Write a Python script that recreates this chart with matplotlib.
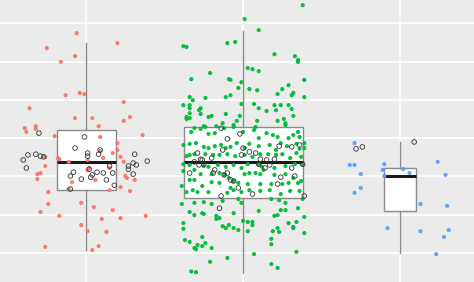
import numpy as np
import matplotlib
matplotlib.use("Agg")
import matplotlib.pyplot as plt

# box summaries per group (min whisker, q1, median, q3, max whisker)
groups = ["A", "B", "C"]
box_whislo = [0.08, -0.51, 0.00]
box_q1 = [1.64, 1.44, 1.10]
box_med = [2.38, 2.38, 2.01]
box_q3 = [3.21, 3.29, 2.22]
box_whishi = [5.48, 5.80, 2.90]

# jittered points (offset from group centre, value)
red_dx = [-0.06, -0.25, 0.20, -0.07, -0.16, -0.13, -0.04, -0.01, 0.24, -0.36,
          -0.07, 0.04, 0.28, 0.24, 0.08, -0.39, -0.32, -0.38, -0.32, -0.20,
          0.09, 0.36, 0.20, -0.26, -0.18, -0.17, -0.11, 0.11, 0.20, 0.22,
          0.17, -0.26, -0.31, -0.29, -0.31, 0.25, 0.26, 0.24, 0.28, 0.31,
          0.22, 0.15, -0.09, -0.11, 0.06, 0.01, 0.15, -0.24, -0.24, -0.03,
          0.05, -0.29, 0.17, -0.17, 0.22, 0.38, 0.10, -0.03, 0.01, 0.13,
          -0.26, 0.08, 0.04, 0.09, 0.01, 0.02]
red_y = [5.74, 5.35, 5.48, 5.14, 4.99, 4.12, 4.18, 4.15, 3.94, 3.78,
         3.52, 3.52, 3.55, 3.45, 3.31, 3.26, 3.31, 3.16, 3.24, 3.05,
         3.03, 3.08, 2.87, 2.51, 2.48, 2.45, 2.38, 2.48, 2.69, 2.51,
         2.61, 2.27, 2.06, 2.09, 1.93, 2.01, 1.96, 2.38, 1.62, 1.91,
         1.72, 2.22, 1.85, 1.67, 1.91, 2.17, 1.64, 1.59, 1.28, 1.31,
         1.20, 1.07, 1.12, 0.97, 0.91, 0.97, 0.89, 0.73, 0.57, 0.55,
         0.16, 0.18, 0.08, 2.66, 2.43, 2.22]
red_open_dx = [-0.30, -0.01, -0.40, -0.37, -0.32, -0.29, -0.27, -0.38, -0.07, 0.01,
               0.01, 0.09, 0.08, 0.15, 0.17, 0.07, 0.11, 0.02, 0.04, 0.03,
               -0.08, -0.10, -0.03, 0.13, -0.10, 0.18, 0.27, 0.27, 0.30, 0.32,
               0.31, 0.39, 0.30]
red_open_y = [3.13, 3.03, 2.43, 2.56, 2.58, 2.53, 2.51, 2.22, 2.74, 2.61,
              2.53, 2.69, 2.58, 2.27, 2.09, 2.11, 2.09, 2.19, 2.04, 1.98,
              2.11, 2.01, 1.93, 1.91, 1.67, 1.77, 2.27, 2.19, 2.35, 2.30,
              2.58, 2.40, 2.06]

green_dx = [0.38, 0.01, 0.10, -0.38, -0.36, -0.10, -0.05, 0.20, 0.33, 0.35,
            0.35, -0.21, 0.03, 0.06, 0.10, -0.33, -0.09, -0.08, -0.01, 0.39,
            -0.03, 0.04, 0.09, 0.29, 0.25, 0.32, 0.31, 0.22, 0.39, -0.34,
            -0.32, -0.24, -0.11, -0.08, -0.01, 0.07, 0.10, 0.20, 0.24, 0.15,
            0.29, 0.31, -0.38, -0.34, -0.34, -0.27, -0.28, -0.27, -0.34, -0.36,
            -0.36, -0.34, -0.22, -0.20, -0.11, -0.02, 0.21, 0.22, 0.26, 0.27,
            0.32, 0.09, 0.08, -0.04, -0.06, -0.13, -0.17, -0.25, -0.31, -0.27,
            -0.33, -0.22, -0.18, -0.12, -0.06, 0.00, 0.07, 0.10, 0.15, 0.19,
            0.22, 0.29, 0.32, 0.35, 0.36, 0.27, -0.24,
            -0.38, -0.34, -0.30, -0.25, -0.22, -0.18, -0.14, -0.11, -0.08, -0.04,
            0.01, 0.04, 0.10, 0.17, 0.21, 0.24, 0.28, 0.34, 0.36, 0.39, 0.39,
            -0.36, -0.34, -0.31, -0.24, -0.19, -0.15, -0.10, -0.05, 0.01, 0.06,
            0.11, 0.16, 0.21, 0.25, 0.30, 0.34, 0.37,
            -0.38, -0.34, -0.25, -0.22, -0.16, -0.11, -0.06, -0.01, 0.03, 0.10,
            0.12, 0.13, 0.20, 0.27, 0.33, 0.38,
            -0.38, -0.31, -0.27, -0.20, -0.15, -0.12, -0.09, -0.06, 0.01, 0.04,
            0.08, 0.11, 0.20, 0.27, 0.32, 0.37,
            -0.39, -0.34, -0.31, -0.26, -0.20, -0.15, -0.08, -0.03, 0.03, 0.11,
            0.18, 0.25, 0.29, 0.35,
            -0.36, -0.32, -0.29, -0.22, -0.10, -0.06, -0.01, 0.04, 0.11, 0.17,
            0.24, 0.30, 0.36,
            -0.39, -0.31, -0.25, -0.20, -0.13, -0.03, -0.01, 0.10, 0.18, 0.23,
            0.27, 0.35, 0.38, -0.34, -0.31, -0.26, -0.25, -0.17, -0.15, -0.06,
            0.00, 0.03, 0.06, 0.20, 0.22, 0.24, 0.27, 0.29, 0.32, 0.34,
            0.39, -0.38, -0.38, -0.17, -0.13, -0.09, -0.11, -0.06, -0.03, 0.03,
            0.06, 0.19, 0.22, 0.23, 0.32, 0.39, -0.37, -0.34, -0.31, -0.29,
            -0.30, -0.26, -0.26, -0.24, -0.20, -0.10, -0.21, 0.07, 0.18, 0.18,
            0.34, 0.18, 0.22, -0.33, -0.30]
green_y = [6.47, 6.11, 5.82, 5.40, 5.38, 5.48, 5.51, 5.19, 5.14, 5.04,
           4.99, 4.70, 4.83, 4.80, 4.75, 4.54, 4.54, 4.52, 4.46, 4.52,
           4.31, 4.28, 4.25, 4.38, 4.28, 4.18, 4.12, 4.15, 4.07, 4.07,
           3.99, 4.05, 4.07, 4.12, 3.89, 3.89, 3.78, 3.86, 3.86, 3.71,
           3.86, 3.76, 3.86, 3.86, 3.78, 3.78, 3.73, 3.63, 3.65, 3.55,
           3.50, 3.52, 3.55, 3.58, 3.63, 3.58, 3.73, 3.45, 3.50, 3.39,
           3.58, 3.45, 3.29, 3.45, 3.34, 3.39, 3.31, 3.31, 3.26, 3.24,
           3.16, 3.11, 3.13, 3.26, 3.29, 3.16, 3.21, 3.00, 3.13, 3.08,
           3.03, 3.00, 3.08, 3.16, 3.03, 3.34, 3.29,
           2.82, 2.85, 2.87, 2.77, 2.74, 2.79, 2.82, 2.74, 2.77, 2.87,
           2.74, 2.85, 2.79, 2.82, 2.69, 2.87, 2.79, 2.85, 2.72, 2.87, 2.74,
           2.53, 2.56, 2.58, 2.58, 2.56, 2.56, 2.58, 2.53, 2.56, 2.51,
           2.58, 2.58, 2.56, 2.58, 2.48, 2.61, 2.51,
           2.32, 2.30, 2.27, 2.25, 2.30, 2.25, 2.30, 2.22, 2.32, 2.30,
           2.25, 2.17, 2.22, 2.27, 2.32, 2.30,
           2.14, 2.17, 2.06, 2.06, 2.09, 2.04, 1.96, 1.88, 2.06, 2.09,
           2.09, 2.06, 2.04, 2.06, 1.96, 1.88,
           1.75, 1.91, 1.91, 1.75, 1.85, 1.83, 1.70, 1.83, 1.80, 1.80,
           1.80, 1.80, 1.83, 1.83,
           1.59, 1.64, 1.59, 1.59, 1.57, 1.64, 1.59, 1.64, 1.62, 1.64,
           1.54, 1.62, 1.62,
           1.28, 1.31, 1.33, 1.28, 1.36, 1.41, 1.31, 1.10, 1.41, 1.38,
           1.31, 1.17, 1.41, 1.07, 0.99, 1.04, 1.02, 0.97, 0.91, 1.04,
           0.84, 0.81, 0.81, 0.97, 0.99, 1.12, 1.12, 0.78, 0.65, 0.81,
           0.94, 0.78, 0.63, 0.89, 0.70, 0.73, 0.65, 0.65, 0.60, 0.57,
           0.73, 0.57, 0.65, 0.55, 0.68, 0.52, 0.34, 0.29, 0.13, 0.21,
           0.10, 0.42, 0.18, 0.26, 0.13, -0.13, -0.23, -0.03, 0.37, 0.23,
           0.03, -0.29, -0.39, -0.48, -0.50]
green_open_dx = [-0.34, -0.29, -0.27, -0.26, -0.25, -0.31, -0.28, -0.20, -0.18, -0.19,
                 -0.13, -0.12, -0.10, -0.08, -0.06, 0.00, -0.01, 0.04, 0.08, 0.10,
                 0.11, 0.14, 0.15, 0.17, 0.20, 0.23, 0.24, 0.31, 0.31, 0.33,
                 0.36, 0.38, 0.39, -0.15, -0.14, 0.06, 0.22, -0.03, -0.14, -0.10,
                 -0.02]
green_open_y = [2.09, 2.61, 2.45, 2.43, 2.32, 2.38, 2.30, 2.48, 2.17, 2.09,
                2.69, 2.04, 2.09, 1.91, 1.88, 2.74, 2.56, 2.64, 2.61, 2.32,
                2.45, 2.22, 2.43, 2.30, 2.45, 2.79, 1.98, 2.77, 2.22, 2.01,
                2.82, 2.32, 1.49, 1.17, 1.49, 1.54, 1.80, 1.70, 3.26, 2.98,
                3.11]

blue_dx = [-0.29, 0.24, -0.32, -0.29, -0.10, -0.11, -0.10, 0.02, 0.06, -0.25,
           0.29, -0.25, -0.29, 0.13, 0.30, -0.08, 0.13, 0.31, 0.28, 0.23]
blue_y = [2.87, 2.38, 2.30, 2.30, 2.32, 2.17, 2.01, 2.19, 2.09, 2.06,
          2.04, 1.70, 1.57, 1.28, 1.23, 0.65, 0.57, 0.60, 0.42, -0.03]
blue_open_dx = [-0.28, -0.24, 0.09]
blue_open_y = [2.72, 2.77, 2.90]

colors = ["#F8766D", "#00BA38", "#619CFF"]
box_widths = [0.376, 0.758, 0.204]
positions = [1, 2, 3]

fig = plt.figure(figsize=(4.74, 2.82), dpi=100)
ax = fig.add_axes([0, 0, 1, 1])
ax.set_facecolor("#EBEBEB")
for s in ax.spines.values():
    s.set_visible(False)
ax.set_xlim(0.452, 3.471)
ax.set_ylim(-0.757, 6.606)
ax.set_xticks(positions)
ax.set_yticks(range(0, 7))
ax.tick_params(length=0, labelbottom=False, labelleft=False)
ax.grid(True, color="white", linewidth=1.1)
ax.set_axisbelow(True)

stats = []
for i in range(3):
    stats.append(dict(whislo=box_whislo[i], q1=box_q1[i], med=box_med[i],
                      q3=box_q3[i], whishi=box_whishi[i], fliers=[]))
ax.bxp(stats, positions=positions, widths=box_widths, patch_artist=True,
       showcaps=False, showfliers=False,
       boxprops=dict(facecolor="white", edgecolor="#8a8a8a", linewidth=1.0),
       whiskerprops=dict(color="#8a8a8a", linewidth=1.0),
       medianprops=dict(color="#1a1a1a", linewidth=2.2, solid_capstyle="butt"),
       manage_ticks=False, zorder=2)

pts = [(red_dx, red_y, red_open_dx, red_open_y),
       (green_dx, green_y, green_open_dx, green_open_y),
       (blue_dx, blue_y, blue_open_dx, blue_open_y)]
for i, (dx, y, odx, oy) in enumerate(pts):
    ax.scatter(positions[i] + np.array(dx), y, s=9, color=colors[i],
               edgecolors="none", alpha=0.95, zorder=3)
    ax.scatter(positions[i] + np.array(odx), oy, s=11, facecolors="none",
               edgecolors="#333333", linewidths=0.6, zorder=4)

fig.savefig("out.png", dpi=100)
